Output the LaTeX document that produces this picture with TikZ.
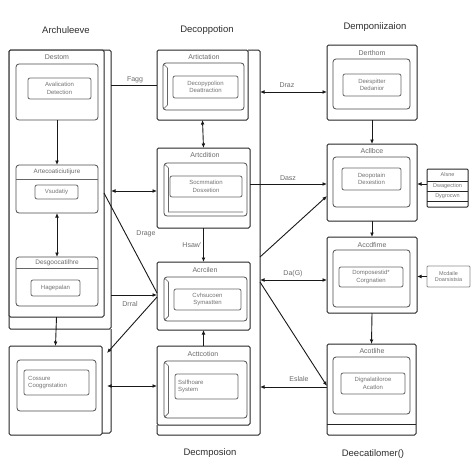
\documentclass[tikz,border=0pt]{standalone}
\usepackage{fontspec}
\setmainfont{Liberation Sans}
\usetikzlibrary{arrows.meta,calc}
\newcommand\drawbx[6][]{\node[#1, minimum width={(#5-#3)*1pt}, minimum height={(#6-#4)*1pt}] (#2) at ({(#3+#5)/2},{(#4+#6)/2}) {};}
\tikzset{
 outerbox/.style={draw=black!85, line width=1pt, rounded corners=1.5pt, fill=white, inner sep=0pt, outer sep=0pt},
 innerbox/.style={draw=black!70, line width=0.8pt, rounded corners=3pt, fill=white, inner sep=0pt, outer sep=0pt},
 corebox/.style={draw=black!60, line width=0.8pt, rounded corners=2pt, fill=white, inner sep=0pt, outer sep=0pt},
 ghost/.style={draw=none, inner sep=0pt, outer sep=0pt},
 ttl/.style={font=\fontsize{9.5}{11}\selectfont, text=black!82, inner sep=0pt},
 boxlbl/.style={font=\fontsize{7}{8}\selectfont, text=black!58, inner sep=0pt},
 coretxt/.style={font=\fontsize{6}{7.6}\selectfont, text=black!55, align=center, inner sep=0pt},
 linelbl/.style={font=\fontsize{7}{8}\selectfont, text=black!58, inner sep=0pt},
 conn/.style={line width=0.9pt, draw=black!90},
 arr/.style={conn, -{Latex[length=4.5pt,width=3.8pt]}},
 darr/.style={conn, {Latex[length=4.5pt,width=3.8pt]}-{Latex[length=4.5pt,width=3.8pt]}},
 frameline/.style={draw=black!85, line width=1pt, rounded corners=1.5pt},
 bevline/.style={draw=black!60, line width=0.7pt},
}
\begin{document}
\begin{tikzpicture}[x=1pt,y=-1pt]
\fill[white] (0,0) rectangle (474,474);
\useasboundingbox (0,0) rectangle (474,474);
% titles
\node[ttl] (t1) at (66,30) {Archuleeve};
\node[ttl] (t2) at (207,30) {Decoppotion};
\node[ttl] (t3) at (375,27) {Demponiizaion};
\node[ttl] (t4) at (210,453) {Decmposion};
\node[ttl] (t5) at (373,454) {Deecatilomer()};
% ---------- left column
\drawbx[outerbox]{Lback}{9}{50}{111}{329}
\draw[frameline] (Lback.south east) -- (111,433) -- (102,433);
\drawbx[outerbox]{Lfront}{9}{50}{104}{317}
\node[boxlbl] (Lfl) at (57,57) {Destom};
\drawbx[innerbox]{L1i}{16}{64}{98}{120}
\drawbx[corebox]{L1c}{28}{78}{91}{99}
\node[coretxt] (L1t) at (L1c) {Avalication\\Detection};
\drawbx[innerbox]{L2}{16}{165}{98}{213}
\draw[bevline] (L2.west |- 0,179) -- (L2.east |- 0,179);
\node[boxlbl, font=\fontsize{6.3}{7}\selectfont] (L2l) at (57,172) {Artecoaticiutijure};
\drawbx[corebox]{L2c}{35}{185}{78}{199}
\node[coretxt] (L2t) at (L2c) {Vsudatiy};
\drawbx[innerbox]{L3}{16}{257}{98}{306}
\draw[bevline] (L3.west |- 0,268) -- (L3.east |- 0,268);
\node[boxlbl, font=\fontsize{6.5}{7}\selectfont] (L3l) at (57,263) {Desgoocatilhre};
\drawbx[corebox]{L3c}{31}{280}{80}{296}
\node[coretxt] (L3t) at (L3c) {Hagepalan};
\drawbx[outerbox]{LB}{9}{346}{102}{435}
\drawbx[innerbox]{LBi}{17}{360}{96}{411}
\drawbx[corebox]{LBc}{24}{370}{89}{395}
\node[coretxt, align=left, anchor=west] (LBt) at (28,382.5) {Cossure\\Cooggnstation};
\draw[arr] (L1i.south) -- (L2.north);
\draw[darr] (L2.south) -- (L3.north);
\draw[arr] (Lfront.south) -- (LB.north);
% ---------- middle column
\node[ghost, minimum width=103pt, minimum height=385pt] (Mframe) at (208.5,242.5) {};
\drawbx[outerbox]{M1}{157}{50}{248}{120}
\node[boxlbl] (M1l) at (204,57) {Artictation};
\drawbx[innerbox]{M1i}{163}{63}{244}{110}
\draw[bevline] ([shift={(1,1.5)}]M1i.north west) -- ([shift={(4.5,5)}]M1i.north west) -- ([shift={(4.5,-5)}]M1i.south west) -- ([shift={(1,-1.5)}]M1i.south west);
\drawbx[corebox]{M1c}{173}{76}{238}{98}
\node[coretxt] (M1t) at (M1c) {Decopypolion\\Deattraction};
\drawbx[outerbox]{M2}{157}{148}{250}{228}
\node[boxlbl] (M2l) at (205,155) {Artcdition};
\drawbx[innerbox]{M2i}{164}{163}{247}{216}
\draw[bevline] ([shift={(1,1.5)}]M2i.north west) -- ([shift={(4.5,5)}]M2i.north west) -- ([shift={(4.5,-4)}]M2i.south west) -- ([shift={(-4,-4)}]M2i.south east);
\drawbx[corebox]{M2c}{170}{176}{242}{197}
\node[coretxt] (M2t) at (M2c) {Socmmation\\Dosxetion};
\drawbx[outerbox]{M3}{157}{262}{250}{330}
\node[boxlbl] (M3l) at (205,270) {Acrcilen};
\drawbx[innerbox]{M3i}{164}{277}{247}{321}
\draw[bevline] ([shift={(1,1.5)}]M3i.north west) -- ([shift={(4.5,5)}]M3i.north west) -- ([shift={(4.5,-5)}]M3i.south west) -- ([shift={(1,-1.5)}]M3i.south west);
\drawbx[corebox]{M3c}{174}{289}{241}{310}
\node[coretxt] (M3t) at (M3c) {Cvhsucoen\\Symastten};
\drawbx[outerbox]{M4}{157}{346}{250}{425}
\node[boxlbl] (M4l) at (203,354) {Acttcotion};
\drawbx[innerbox]{M4i}{164}{361}{247}{418}
\draw[bevline] ([shift={(1,1.5)}]M4i.north west) -- ([shift={(4.5,5)}]M4i.north west) -- ([shift={(4.5,-5)}]M4i.south west) -- ([shift={(1,-1.5)}]M4i.south west);
\drawbx[corebox]{M4c}{175}{374}{238}{399}
\node[coretxt, align=left, anchor=west] (M4t) at (178,386.5) {Sslfhoare\\System};
\draw[frameline] (M1.north east) -- (Mframe.north east) -- (Mframe.south east) -- (Mframe.south west) -- (M4.south west);
\draw[darr] (M1.south) -- (M2.north);
\draw[arr] (M2.south) -- (M3.north);
\draw[arr] (M4.north) -- (M3.south);
\node[linelbl] (hsaw) at (192,245) {Hsaw'};
% ---------- right column
\drawbx[outerbox]{R1}{327}{45}{417}{120}
\node[boxlbl] (R1l) at (372,53) {Derthom};
\drawbx[innerbox]{R1i}{333}{59}{410}{109}
\drawbx[corebox]{R1c}{343}{74}{401}{96}
\node[coretxt] (R1t) at (R1c) {Deespitter\\Dedanior};
\drawbx[outerbox]{R2}{327}{144}{417}{221}
\node[boxlbl] (R2l) at (372,151) {Acllbce};
\drawbx[innerbox]{R2i}{333}{157}{410}{207}
\drawbx[corebox]{R2c}{342}{168}{401}{190}
\node[coretxt] (R2t) at (R2c) {Deopotain\\Dexestion};
\drawbx[outerbox]{R3}{327}{237}{417}{313}
\node[boxlbl] (R3l) at (372,245) {Accdfime};
\drawbx[innerbox]{R3i}{333}{250}{410}{307}
\drawbx[corebox]{R3c}{339}{267}{403}{287}
\node[coretxt] (R3t) at (R3c) {Domposestid*\\Corgnatien};
\drawbx[outerbox]{R4}{327}{344}{416}{435}
\draw[frameline] (R4.west |- 0,424) -- (R4.east |- 0,424);
\node[boxlbl] (R4l) at (372,351) {Acotlihe};
\drawbx[innerbox]{R4i}{333}{357}{410}{414}
\drawbx[corebox]{R4c}{341}{373}{405}{394}
\node[coretxt] (R4t) at (R4c) {Dignalatiloroe\\Acatlon};
% side table
\drawbx[outerbox, rounded corners=1pt]{T}{427}{169}{468}{207}
\draw[frameline, line width=0.8pt] (T.west |- 0,181) -- (T.east |- 0,181);
\draw[frameline, line width=0.8pt] (T.west |- 0,191) -- (T.east |- 0,191);
\draw[frameline, line width=0.8pt] (T.west |- 0,201) -- (T.east |- 0,201);
\node[coretxt, font=\fontsize{5.5}{6}\selectfont] (Ta) at (447.5,175) {Alsne};
\node[coretxt, font=\fontsize{5.5}{6}\selectfont] (Tb) at (447.5,186) {Dwagection};
\node[coretxt, font=\fontsize{5.5}{6}\selectfont] (Tc) at (447.5,196) {Dygrocwn};
\drawbx[corebox, rounded corners=1pt, draw=black!45]{S}{427}{266}{470}{287}
\node[coretxt, font=\fontsize{5.5}{6.8}\selectfont] (St) at (S) {Mcdaile\\Doarsistsia};
\draw[arr] (R1.south) -- (R2.north);
\draw[arr] (R2.south) -- (R3.north);
\draw[arr] (R3.south) -- (R4.north);
\draw[arr] (T.west |- 0,184) -- (R2.east |- 0,184);
\draw[arr] (S.west) -- (R3.east |- S.west);
% ---------- cross connectors
\draw[conn] (Lback.east |- 0,85) -- (M1.west |- 0,85);
\node[linelbl] (fagg) at (135,80) {Fagg};
\draw[darr] (Mframe.east |- 0,92) -- (R1.west |- 0,92);
\node[linelbl] (draz) at (287,85) {Draz};
\draw[darr] (Lback.east |- 0,191) -- (M2.west |- 0,191);
\draw[conn] (Lfront.east |- 0,193) -- (M3.west |- 0,293);
\node[linelbl] (drage) at (146,234) {Drage};
\draw[arr] (Lback.east |- 0,295) -- (M3.west |- 0,295);
\node[linelbl] (drral) at (130,304) {Drral};
\draw[arr] (M3.west |- 0,297) -- ($(LB.east |- 0,353)+(5,0)$);
\draw[darr] ($(LB.east |- 0,386)+(5,0)$) -- (M4.west |- 0,386);
\draw[arr] (M2.east |- 0,184) -- (R2.west |- 0,184);
\node[linelbl] (dasz) at (288,178) {Dasz};
\draw[arr] (Mframe.east |- 0,257) -- (R2.west |- 0,196);
\draw[darr] (Mframe.east |- 0,280) -- (R3.west |- 0,280);
\node[linelbl] (dag) at (293,274) {Da(G)};
\draw[arr] (Mframe.east |- 0,282) -- (R4.west |- 0,386);
\draw[arr] (R4.west |- 0,387) -- (Mframe.east |- 0,387);
\node[linelbl] (eslale) at (299,379) {Eslale};
\end{tikzpicture}
\end{document}
